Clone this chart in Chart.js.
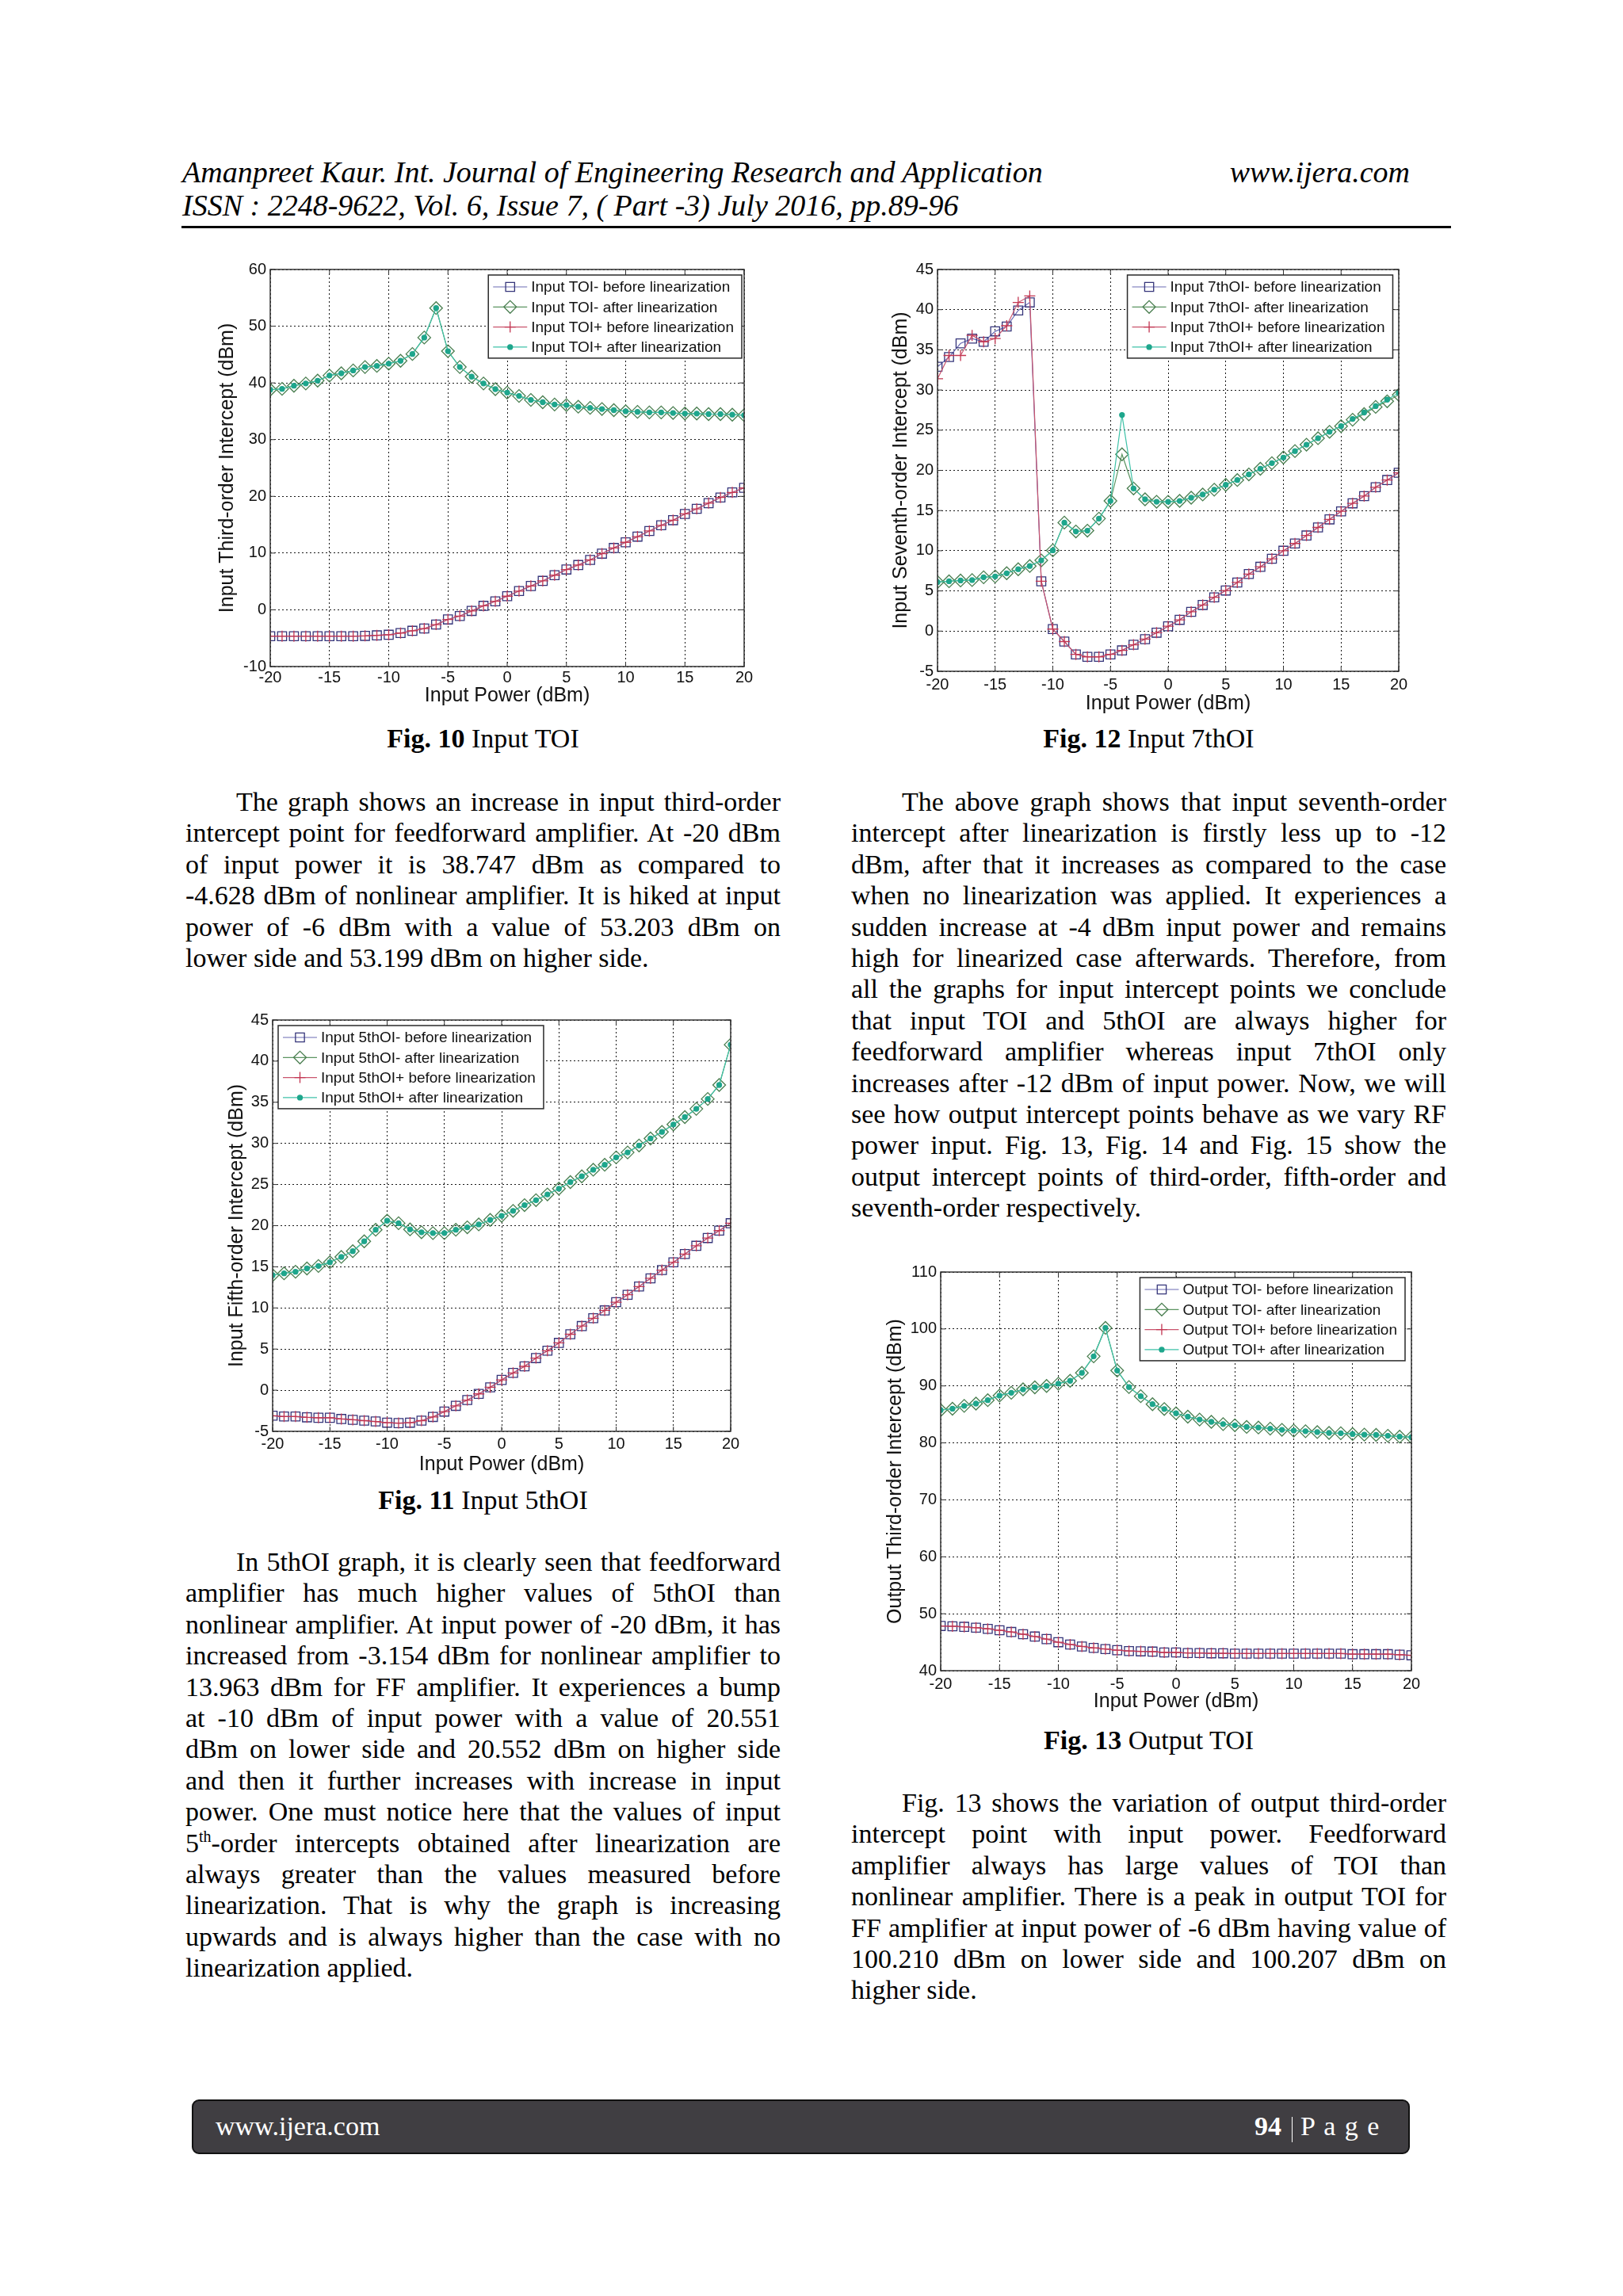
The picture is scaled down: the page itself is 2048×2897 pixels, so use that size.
<!DOCTYPE html>
<html>
<head>
<meta charset="utf-8">
<script src="https://cdn.jsdelivr.net/npm/chart.js@4.4.1/dist/chart.umd.min.js"></script>
<style>
  body { margin: 0; background: #fff; }
  #page { position: relative; width: 2048px; height: 2897px; background: #fff; overflow: hidden;
          font-family: "Liberation Serif", "Times New Roman", serif; color: #000; }
  .hdr { position: absolute; font-style: italic; font-size: 38px; line-height: 34px; white-space: nowrap; }
  .rule { position: absolute; left: 229px; top: 285px; width: 1602px; height: 3px; background: #000; }
  .cap { position: absolute; width: 751px; font-size: 34px; line-height: 39.4px; text-align: center; white-space: nowrap; }
  .para { position: absolute; width: 751px; font-size: 34px; }
  .ln { height: 39.4px; line-height: 39.4px; white-space: nowrap; }
  .ln.first { padding-left: 64px; }
  .ln span { display: inline-block; }
  sup { font-size: 20px; line-height: 0; vertical-align: 13px; }
  canvas { position: absolute; }
  .foot { position: absolute; left: 242px; top: 2649px; width: 1533px; height: 65px; background: #403e42;
          border: 2px solid #111; border-radius: 9px; }
  .ft { position: absolute; color: #fff; font-size: 34px; line-height: 34px; white-space: nowrap; }
</style>
</head>
<body>
<div id="page">
  <div class="hdr" style="left:230px; top:200px;">Amanpreet Kaur. Int. Journal of Engineering Research and Application</div>
  <div class="hdr" style="right:269px; top:200px;">www.ijera.com</div>
  <div class="hdr" style="left:230px; top:242px;">ISSN : 2248-9622, Vol. 6, Issue 7, ( Part -3) July 2016, pp.89-96</div>
  <div class="rule"></div>

  <canvas id="fig10"></canvas>
  <canvas id="fig12"></canvas>
  <canvas id="fig11"></canvas>
  <canvas id="fig13"></canvas>

  <div class="cap" style="left:234px; top:912px;"><b>Fig. 10</b> Input TOI</div>
  <div class="cap" style="left:1074px; top:912px;"><b>Fig. 12</b> Input 7thOI</div>
  <div class="cap" style="left:234px; top:1873px;"><b>Fig. 11</b> Input 5thOI</div>
  <div class="cap" style="left:1074px; top:2176px;"><b>Fig. 13</b> Output TOI</div>

  <div class="para" style="left:234px; top:992px;">
    <div class="ln first"><span>The graph shows an increase in input third-order</span></div>
    <div class="ln"><span>intercept point for feedforward amplifier. At -20 dBm</span></div>
    <div class="ln"><span>of input power it is 38.747 dBm as compared to</span></div>
    <div class="ln"><span>-4.628 dBm of nonlinear amplifier. It is hiked at input</span></div>
    <div class="ln"><span>power of -6 dBm with a value of 53.203 dBm on</span></div>
    <div class="ln last"><span>lower side and 53.199 dBm on higher side.</span></div>
  </div>

  <div class="para" style="left:1074px; top:992px;">
    <div class="ln first"><span>The above graph shows that input seventh-order</span></div>
    <div class="ln"><span>intercept after linearization is firstly less up to -12</span></div>
    <div class="ln"><span>dBm, after that it increases as compared to the case</span></div>
    <div class="ln"><span>when no linearization was applied. It experiences a</span></div>
    <div class="ln"><span>sudden increase at -4 dBm input power and remains</span></div>
    <div class="ln"><span>high for linearized case afterwards. Therefore, from</span></div>
    <div class="ln"><span>all the graphs for input intercept points we conclude</span></div>
    <div class="ln"><span>that input TOI and 5thOI are always higher for</span></div>
    <div class="ln"><span>feedforward amplifier whereas input 7thOI only</span></div>
    <div class="ln"><span>increases after -12 dBm of input power. Now, we will</span></div>
    <div class="ln"><span>see how output intercept points behave as we vary RF</span></div>
    <div class="ln"><span>power input. Fig. 13, Fig. 14 and Fig. 15 show the</span></div>
    <div class="ln"><span>output intercept points of third-order, fifth-order and</span></div>
    <div class="ln last"><span>seventh-order respectively.</span></div>
  </div>

  <div class="para" style="left:234px; top:1951px;">
    <div class="ln first"><span>In 5thOI graph, it is clearly seen that feedforward</span></div>
    <div class="ln"><span>amplifier has much higher values of 5thOI than</span></div>
    <div class="ln"><span>nonlinear amplifier. At input power of -20 dBm, it has</span></div>
    <div class="ln"><span>increased from -3.154 dBm for nonlinear amplifier to</span></div>
    <div class="ln"><span>13.963 dBm for FF amplifier. It experiences a bump</span></div>
    <div class="ln"><span>at -10 dBm of input power with a value of 20.551</span></div>
    <div class="ln"><span>dBm on lower side and 20.552 dBm on higher side</span></div>
    <div class="ln"><span>and then it further increases with increase in input</span></div>
    <div class="ln"><span>power. One must notice here that the values of input</span></div>
    <div class="ln"><span>5<sup>th</sup>-order intercepts obtained after linearization are</span></div>
    <div class="ln"><span>always greater than the values measured before</span></div>
    <div class="ln"><span>linearization. That is why the graph is increasing</span></div>
    <div class="ln"><span>upwards and is always higher than the case with no</span></div>
    <div class="ln last"><span>linearization applied.</span></div>
  </div>

  <div class="para" style="left:1074px; top:2255px;">
    <div class="ln first"><span>Fig. 13 shows the variation of output third-order</span></div>
    <div class="ln"><span>intercept point with input power. Feedforward</span></div>
    <div class="ln"><span>amplifier always has large values of TOI than</span></div>
    <div class="ln"><span>nonlinear amplifier. There is a peak in output TOI for</span></div>
    <div class="ln"><span>FF amplifier at input power of -6 dBm having value of</span></div>
    <div class="ln"><span>100.210 dBm on lower side and 100.207 dBm on</span></div>
    <div class="ln last"><span>higher side.</span></div>
  </div>

  <div class="foot"></div>
  <div class="ft" style="left:272px; top:2666px;">www.ijera.com</div>
  <div class="ft" style="left:1583px; top:2666px;"><b>94</b></div>
  <div style="position:absolute; left:1630px; top:2671px; width:1px; height:32px; background:#fff;"></div>
  <div class="ft" style="left:1641px; top:2666px; letter-spacing:1.5px;">P a g e</div>
</div>

<script>
// input power axis, shared by all four figures (dBm)
const inputPower = [-20, -19, -18, -17, -16, -15, -14, -13, -12, -11, -10, -9, -8, -7, -6, -5, -4, -3, -2, -1,
  0, 1, 2, 3, 4, 5, 6, 7, 8, 9, 10, 11, 12, 13, 14, 15, 16, 17, 18, 19, 20];

// Fig. 10 Input TOI
const toiMinusBefore = [-4.65, -4.65, -4.65, -4.65, -4.65, -4.65, -4.65, -4.65, -4.6, -4.5, -4.4,
  -4.1, -3.7, -3.3, -2.6, -1.7, -1.1, -0.2, 0.7, 1.5, 2.4,
  3.3, 4.2, 5.1, 6.1, 7.1, 7.9, 8.8, 9.9, 10.9, 11.9,
  12.9, 13.9, 14.9, 15.8, 16.9, 17.8, 18.8, 19.8, 20.7, 21.5];
const toiMinusAfter = [38.8, 38.95, 39.5, 39.9, 40.4, 41.3, 41.7, 42.2, 42.8, 43.0, 43.4,
  43.9, 45.1, 48.0, 53.2, 45.6, 42.8, 41.1, 39.9, 38.9, 38.3,
  37.7, 37.0, 36.6, 36.2, 36.1, 35.8, 35.6, 35.4, 35.2, 35.0,
  34.9, 34.8, 34.8, 34.7, 34.6, 34.6, 34.5, 34.5, 34.4, 34.3];
const toiPlusBefore = [-4.65, -4.65, -4.65, -4.65, -4.65, -4.65, -4.65, -4.65, -4.6, -4.5, -4.4,
  -4.1, -3.7, -3.3, -2.6, -1.7, -1.1, -0.2, 0.7, 1.5, 2.4,
  3.3, 4.2, 5.1, 6.1, 7.1, 7.9, 8.8, 9.9, 10.9, 11.9,
  12.9, 13.9, 14.9, 15.8, 16.9, 17.8, 18.8, 19.8, 20.7, 21.5];
const toiPlusAfter = [38.8, 38.95, 39.5, 39.9, 40.4, 41.3, 41.7, 42.2, 42.8, 43.0, 43.4,
  43.9, 45.1, 48.0, 53.2, 45.6, 42.8, 41.1, 39.9, 38.9, 38.3,
  37.7, 37.0, 36.6, 36.2, 36.1, 35.8, 35.6, 35.4, 35.2, 35.0,
  34.9, 34.8, 34.8, 34.7, 34.6, 34.6, 34.5, 34.5, 34.4, 34.3];

// Fig. 12 Input 7thOI
const oi7MinusBefore = [32.9, 34.1, 35.8, 36.4, 36.0, 37.3, 37.9, 39.9, 40.9, 6.2, 0.25,
  -1.3, -2.9, -3.2, -3.2, -2.9, -2.4, -1.7, -1.0, -0.2, 0.6,
  1.4, 2.4, 3.25, 4.2, 5.05, 6.05, 7.1, 8.0, 9.0, 10.0,
  10.9, 11.9, 12.9, 13.9, 14.9, 15.9, 16.8, 17.9, 18.8, 19.7];
const oi7MinusAfter = [6.1, 6.2, 6.3, 6.35, 6.7, 6.8, 7.2, 7.7, 8.1, 8.8, 10.05,
  13.5, 12.4, 12.5, 14.0, 16.2, 22.0, 17.75, 16.4, 16.1, 16.1,
  16.2, 16.6, 17.0, 17.6, 18.2, 18.8, 19.5, 20.2, 20.9, 21.6,
  22.4, 23.2, 24.0, 24.8, 25.5, 26.3, 27.0, 27.9, 28.6, 29.4];
const oi7PlusBefore = [31.4, 34.3, 34.3, 36.8, 36.0, 36.4, 38.0, 40.9, 41.7, 6.2, 0.25,
  -1.3, -2.9, -3.2, -3.2, -2.9, -2.4, -1.7, -1.0, -0.2, 0.6,
  1.4, 2.4, 3.25, 4.2, 5.05, 6.05, 7.1, 8.0, 9.0, 10.0,
  10.9, 11.9, 12.9, 13.9, 14.9, 15.9, 16.8, 17.9, 18.8, 19.7];
const oi7PlusAfter = [6.1, 6.2, 6.3, 6.35, 6.7, 6.8, 7.2, 7.7, 8.1, 8.8, 10.05,
  13.5, 12.4, 12.5, 14.0, 16.2, 26.9, 17.75, 16.4, 16.1, 16.1,
  16.2, 16.6, 17.0, 17.6, 18.2, 18.8, 19.5, 20.2, 20.9, 21.6,
  22.4, 23.2, 24.0, 24.8, 25.5, 26.4, 27.2, 28.0, 28.8, 29.65];

// Fig. 11 Input 5thOI
const oi5MinusBefore = [-3.1, -3.2, -3.2, -3.3, -3.35, -3.35, -3.5, -3.6, -3.7, -3.8, -3.95,
  -4.0, -3.95, -3.7, -3.25, -2.6, -1.9, -1.2, -0.45, 0.35, 1.25,
  2.1, 2.9, 3.9, 4.8, 5.75, 6.8, 7.8, 8.75, 9.7, 10.7,
  11.6, 12.6, 13.6, 14.6, 15.55, 16.55, 17.55, 18.5, 19.4, 20.3];
const oi5MinusAfter = [13.98, 14.2, 14.4, 14.8, 15.1, 15.55, 16.2, 16.9, 18.1, 19.5, 20.6,
  20.3, 19.55, 19.2, 19.1, 19.1, 19.5, 19.8, 20.15, 20.7, 21.2,
  21.8, 22.5, 23.1, 23.8, 24.5, 25.3, 26.0, 26.8, 27.4, 28.3,
  28.9, 29.75, 30.6, 31.4, 32.3, 33.2, 34.2, 35.4, 37.1, 42.0];
const oi5PlusBefore = [-3.1, -3.2, -3.2, -3.3, -3.35, -3.35, -3.5, -3.6, -3.7, -3.8, -3.95,
  -4.0, -3.95, -3.7, -3.25, -2.6, -1.9, -1.2, -0.45, 0.35, 1.25,
  2.1, 2.9, 3.9, 4.8, 5.75, 6.8, 7.8, 8.75, 9.7, 10.7,
  11.6, 12.6, 13.6, 14.6, 15.55, 16.55, 17.55, 18.5, 19.4, 20.3];
const oi5PlusAfter = [13.98, 14.2, 14.4, 14.8, 15.1, 15.55, 16.2, 16.9, 18.1, 19.5, 20.6,
  20.3, 19.55, 19.2, 19.1, 19.1, 19.5, 19.8, 20.15, 20.7, 21.2,
  21.8, 22.5, 23.1, 23.8, 24.5, 25.3, 26.0, 26.8, 27.4, 28.3,
  28.9, 29.75, 30.6, 31.4, 32.3, 33.2, 34.2, 35.4, 37.1, 42.0];

// Fig. 13 Output TOI
const otoiMinusBefore = [47.85, 47.8, 47.7, 47.55, 47.35, 47.1, 46.8, 46.4, 46.0, 45.55, 45.0,
  44.6, 44.25, 44.0, 43.8, 43.6, 43.45, 43.4, 43.35, 43.2, 43.2,
  43.1, 43.1, 43.05, 43.05, 43.0, 43.0, 43.0, 43.0, 43.0, 43.0,
  43.0, 43.0, 43.0, 43.0, 42.9, 42.9, 42.9, 42.9, 42.8, 42.7];
const otoiMinusAfter = [85.75, 86.0, 86.5, 86.9, 87.5, 88.3, 88.8, 89.4, 89.75, 90.0, 90.4,
  90.9, 92.3, 95.2, 100.2, 92.7, 89.8, 88.2, 86.8, 85.95, 85.2,
  84.6, 84.1, 83.7, 83.3, 83.1, 82.8, 82.7, 82.5, 82.3, 82.15,
  82.05, 81.9, 81.75, 81.7, 81.55, 81.45, 81.4, 81.25, 81.1, 81.0];
const otoiPlusBefore = [47.85, 47.8, 47.7, 47.55, 47.35, 47.1, 46.8, 46.4, 46.0, 45.55, 45.0,
  44.6, 44.25, 44.0, 43.8, 43.6, 43.45, 43.4, 43.35, 43.2, 43.2,
  43.1, 43.1, 43.05, 43.05, 43.0, 43.0, 43.0, 43.0, 43.0, 43.0,
  43.0, 43.0, 43.0, 43.0, 42.9, 42.9, 42.9, 42.9, 42.8, 42.7];
const otoiPlusAfter = [85.75, 86.0, 86.5, 86.9, 87.5, 88.3, 88.8, 89.4, 89.75, 90.0, 90.4,
  90.9, 92.3, 95.2, 100.2, 92.7, 89.8, 88.2, 86.8, 85.95, 85.2,
  84.6, 84.1, 83.7, 83.3, 83.1, 82.8, 82.7, 82.5, 82.3, 82.15,
  82.05, 81.9, 81.75, 81.7, 81.55, 81.45, 81.4, 81.25, 81.1, 81.0];

const xTicks = [-20, -15, -10, -5, 0, 5, 10, 15, 20];

// matlab-ish series styles: square / diamond / plus / dot
const seriesStyles = [
  { line: '#6a6ab4', mark: '#35357a', fill: 'rgba(0,0,0,0)', pointStyle: 'rect', radius: 8 },
  { line: '#5c9562', mark: '#4a7e50', fill: 'rgba(0,0,0,0)', pointStyle: 'rectRot', radius: 8 },
  { line: '#c9556e', mark: '#c33652', fill: 'rgba(0,0,0,0)', pointStyle: 'cross', radius: 7 },
  { line: '#3fc2a8', mark: '#1ea68c', fill: '#1ea68c', pointStyle: 'circle', radius: 3 }
];

Chart.defaults.font.family = '"Liberation Sans", Arial, Helvetica, sans-serif';
Chart.defaults.color = '#111';

// box, inner ticks and the boxed legend, drawn the way matlab does it
const matlabAxes = {
  id: 'matlabAxes',
  afterDraw(chart, args, opts) {
    const ctx = chart.ctx;
    const a = chart.chartArea;
    const xs = chart.scales.x, ys = chart.scales.y;
    ctx.save();
    ctx.strokeStyle = '#333';
    ctx.lineWidth = 1;
    ctx.beginPath();
    xs.ticks.forEach(t => {
      const px = xs.getPixelForValue(t.value);
      ctx.moveTo(px, a.bottom); ctx.lineTo(px, a.bottom - 6);
      ctx.moveTo(px, a.top); ctx.lineTo(px, a.top + 6);
    });
    ys.ticks.forEach(t => {
      const py = ys.getPixelForValue(t.value);
      ctx.moveTo(a.left, py); ctx.lineTo(a.left + 6, py);
      ctx.moveTo(a.right, py); ctx.lineTo(a.right - 6, py);
    });
    ctx.stroke();
    ctx.lineWidth = 1.5;
    ctx.strokeStyle = '#333';
    ctx.strokeRect(a.left, a.top, a.right - a.left, a.bottom - a.top);

    // legend
    const sets = chart.data.datasets;
    ctx.font = '19px "Liberation Sans", Arial, sans-serif';
    let tw = 0;
    sets.forEach(d => { tw = Math.max(tw, ctx.measureText(d.label).width); });
    const boxW = 54 + tw + 10;
    const rowH = 25.3;
    const boxH = 15 + rowH * (sets.length - 1) + 14;
    const bx = opts.corner === 'left' ? a.left + opts.margin : a.right - opts.margin - boxW;
    const by = a.top + 7;
    ctx.fillStyle = '#fff';
    ctx.fillRect(bx, by, boxW, boxH);
    ctx.strokeStyle = '#2a2a2a';
    ctx.lineWidth = 1.5;
    ctx.strokeRect(bx, by, boxW, boxH);
    sets.forEach((d, i) => {
      const st = seriesStyles[i];
      const cy = by + 15 + i * rowH;
      ctx.strokeStyle = st.line;
      ctx.lineWidth = 1.2;
      ctx.beginPath();
      ctx.moveTo(bx + 6, cy); ctx.lineTo(bx + 49, cy);
      ctx.stroke();
      ctx.strokeStyle = st.mark;
      ctx.fillStyle = st.fill;
      ctx.lineWidth = 1.3;
      Chart.helpers.drawPoint(ctx, { pointStyle: st.pointStyle, radius: st.radius, rotation: 0, borderWidth: 1.3 }, bx + 27.5, cy);
      ctx.fillStyle = '#111';
      ctx.textBaseline = 'middle';
      ctx.textAlign = 'left';
      ctx.fillText(d.label, bx + 54, cy + 1);
    });
    ctx.restore();
  }
};

function buildChart(id, opt) {
  const plotW = opt.plot[2] - opt.plot[0];
  const plotH = opt.plot[3] - opt.plot[1];
  const cv = document.getElementById(id);
  cv.width = plotW + 90 + 24;
  cv.height = plotH + 15 + 64;
  cv.style.left = (opt.plot[0] - 90) + 'px';
  cv.style.top = (opt.plot[1] - 15) + 'px';

  const datasets = opt.series.map((vals, i) => {
    const st = seriesStyles[i];
    return {
      label: opt.labels[i],
      data: inputPower.map((x, k) => ({ x: x, y: vals[k] })),
      borderColor: st.line,
      borderWidth: 1.2,
      pointStyle: st.pointStyle,
      pointRadius: st.radius,
      pointBorderColor: st.mark,
      pointBackgroundColor: st.fill,
      pointBorderWidth: 1.3,
      tension: 0,
      fill: false,
      order: 4 - i
    };
  });

  return new Chart(cv, {
    type: 'line',
    data: { datasets: datasets },
    options: {
      responsive: false,
      animation: false,
      devicePixelRatio: 1,
      events: [],
      layout: { padding: { top: 15, right: 24, left: 0, bottom: 0 } },
      plugins: {
        legend: { display: false },
        tooltip: { enabled: false },
        matlabAxes: { corner: opt.corner, margin: opt.legendMargin }
      },
      scales: {
        x: {
          type: 'linear',
          min: -20, max: 20,
          afterFit: s => { s.height = 64; },
          afterBuildTicks: s => { s.ticks = xTicks.map(v => ({ value: v })); },
          grid: { color: 'rgba(0,0,0,0.9)', lineWidth: 1, drawTicks: false },
          border: { display: false, dash: [2, 3] },
          ticks: { font: { size: 20 }, padding: opt.xTickPad, maxRotation: 0, autoSkip: false },
          title: { display: true, text: 'Input Power (dBm)', font: { size: 25 }, padding: { top: 0, bottom: 49 - opt.xTitle } }
        },
        y: {
          min: opt.yMin, max: opt.yMax,
          afterFit: s => { s.width = 90; },
          afterBuildTicks: s => { s.ticks = opt.yTicks.map(v => ({ value: v })); },
          grid: { color: 'rgba(0,0,0,0.9)', lineWidth: 1, drawTicks: false },
          border: { display: false, dash: [2, 3] },
          ticks: { font: { size: 20 }, padding: 5, autoSkip: false },
          title: { display: true, text: opt.yTitle, font: { size: 25 }, padding: { top: 75 - opt.yTitleGap, bottom: 0 } }
        }
      }
    },
    plugins: [matlabAxes]
  });
}

buildChart('fig10', {
  plot: [341, 338, 939, 841],
  yMin: -10, yMax: 60, yTicks: [-10, 0, 10, 20, 30, 40, 50, 60],
  yTitle: 'Input Third-order Intercept (dBm)',
  labels: ['Input TOI- before linearization', 'Input TOI- after linearization',
           'Input TOI+ before linearization', 'Input TOI+ after linearization'],
  series: [toiMinusBefore, toiMinusAfter, toiPlusBefore, toiPlusAfter],
  corner: 'right', legendMargin: 3,
  yTitleGap: 53.5, xTitle: 37.6, xTickPad: 2.6
});

buildChart('fig12', {
  plot: [1183, 338, 1765, 847],
  yMin: -5, yMax: 45, yTicks: [-5, 0, 5, 10, 15, 20, 25, 30, 35, 40, 45],
  yTitle: 'Input Seventh-order Intercept (dBm)',
  labels: ['Input 7thOI- before linearization', 'Input 7thOI- after linearization',
           'Input 7thOI+ before linearization', 'Input 7thOI+ after linearization'],
  series: [oi7MinusBefore, oi7MinusAfter, oi7PlusBefore, oi7PlusAfter],
  corner: 'right', legendMargin: 7.5,
  yTitleGap: 46, xTitle: 41.4, xTickPad: 5.6
});

buildChart('fig11', {
  plot: [344, 1285, 922, 1806],
  yMin: -5, yMax: 45, yTicks: [-5, 0, 5, 10, 15, 20, 25, 30, 35, 40, 45],
  yTitle: 'Input Fifth-order Intercept (dBm)',
  labels: ['Input 5thOI- before linearization', 'Input 5thOI- after linearization',
           'Input 5thOI+ before linearization', 'Input 5thOI+ after linearization'],
  series: [oi5MinusBefore, oi5MinusAfter, oi5PlusBefore, oi5PlusAfter],
  corner: 'left', legendMargin: 7,
  yTitleGap: 45, xTitle: 42.6, xTickPad: 4
});

buildChart('fig13', {
  plot: [1187, 1603, 1781, 2108],
  yMin: 40, yMax: 110, yTicks: [40, 50, 60, 70, 80, 90, 100, 110],
  yTitle: 'Output Third-order Intercept (dBm)',
  labels: ['Output TOI- before linearization', 'Output TOI- after linearization',
           'Output TOI+ before linearization', 'Output TOI+ after linearization'],
  series: [otoiMinusBefore, otoiMinusAfter, otoiPlusBefore, otoiPlusAfter],
  corner: 'right', legendMargin: 8,
  yTitleGap: 57, xTitle: 38.8, xTickPad: 5.2
});

// justify every full line to the column width, keep the last one ragged
document.querySelectorAll('.ln').forEach(function (row) {
  if (row.classList.contains('last')) return;
  const span = row.querySelector('span');
  const pad = parseFloat(getComputedStyle(row).paddingLeft) || 0;
  const target = row.getBoundingClientRect().width - pad;
  const w = span.getBoundingClientRect().width;
  const gaps = (span.textContent.match(/ /g) || []).length;
  if (gaps > 0) span.style.wordSpacing = ((target - w) / gaps) + 'px';
});
</script>
</body>
</html>
